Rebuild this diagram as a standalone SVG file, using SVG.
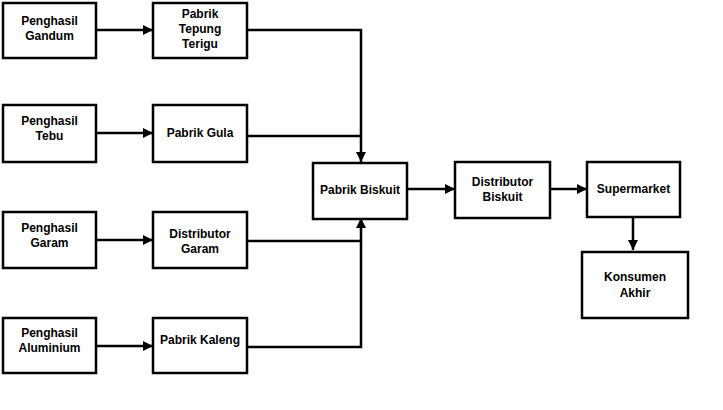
<svg xmlns="http://www.w3.org/2000/svg" width="723" height="410" viewBox="0 0 723 410">
<style>
rect{fill:#fff;stroke:#000;stroke-width:2.5}
text{font-family:"Liberation Sans",Arial,sans-serif;font-weight:bold;font-size:12px;text-anchor:middle}
.c path{fill:none;stroke:#000;stroke-width:2.5}
</style>
<defs><marker id="a" viewBox="0 0 10 10" refX="10" refY="5" markerWidth="4" markerHeight="4" orient="auto" markerUnits="strokeWidth"><path d="M0,0L10,5L0,10z" fill="#000"/></marker></defs>
<rect width="723" height="410" style="stroke:none"/>
<g class="c">
<path d="M96,30H153" marker-end="url(#a)"/>
<path d="M96,133H153" marker-end="url(#a)"/>
<path d="M96,240H153" marker-end="url(#a)"/>
<path d="M96,346H153" marker-end="url(#a)"/>
<path d="M247,30H361V162" marker-end="url(#a)"/>
<path d="M247,136H361"/>
<path d="M247,241H361V218" marker-end="url(#a)"/>
<path d="M247,347H361V242"/>
<path d="M408,189H455" marker-end="url(#a)"/>
<path d="M550,189H587" marker-end="url(#a)"/>
<path d="M633,217V250" marker-end="url(#a)"/>
</g>
<g id="n1"><rect x="3" y="3" width="93" height="55"/><text x="49.5" y="25">Penghasil</text><text x="49.5" y="40">Gandum</text></g>
<g id="n2"><rect x="153" y="3" width="94" height="55"/><text x="200" y="18">Pabrik</text><text x="200" y="33">Tepung</text><text x="200" y="48">Terigu</text></g>
<g id="n3"><rect x="3" y="105" width="93" height="57"/><text x="49.5" y="125">Penghasil</text><text x="49.5" y="140">Tebu</text></g>
<g id="n4"><rect x="153" y="105" width="94" height="57"/><text x="200" y="137">Pabrik Gula</text></g>
<g id="n5"><rect x="3" y="212" width="93" height="56"/><text x="49.5" y="232">Penghasil</text><text x="49.5" y="247">Garam</text></g>
<g id="n6"><rect x="153" y="212" width="94" height="56"/><text x="200" y="238">Distributor</text><text x="200" y="253">Garam</text></g>
<g id="n7"><rect x="3" y="318" width="93" height="55"/><text x="49.5" y="337">Penghasil</text><text x="49.5" y="352">Aluminium</text></g>
<g id="n8"><rect x="153" y="318" width="94" height="55"/><text x="200" y="344">Pabrik Kaleng</text></g>
<g id="n9"><rect x="313" y="163" width="94" height="56"/><text x="360" y="194">Pabrik Biskuit</text></g>
<g id="n10"><rect x="455" y="162" width="95" height="56"/><text x="502.5" y="186">Distributor</text><text x="502.5" y="201">Biskuit</text></g>
<g id="n11"><rect x="587" y="162" width="93" height="55"/><text x="633.5" y="193">Supermarket</text></g>
<g id="n12"><rect x="582" y="252" width="106" height="66"/><text x="635" y="281">Konsumen</text><text x="635" y="297">Akhir</text></g>
</svg>
